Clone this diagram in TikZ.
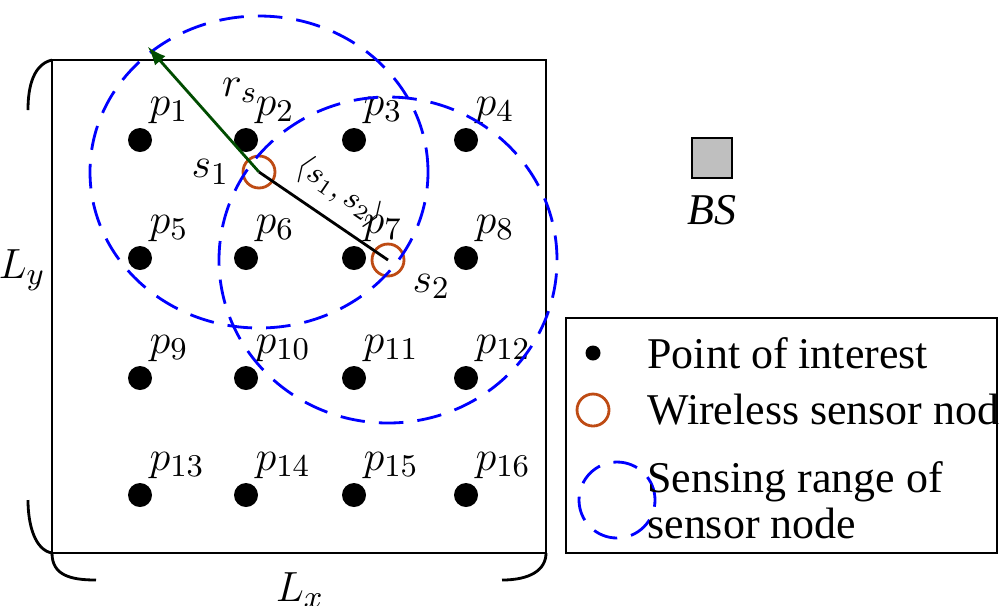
\documentclass[tikz,border=0pt]{standalone}
\usepackage{fontspec}
\setmainfont{Liberation Serif}
\usetikzlibrary{positioning}
\tikzset{
  poi/.style={circle, fill=black, inner sep=0pt, minimum size=0.24cm},
  sensor/.style={circle, draw={rgb,255:red,190;green,75;blue,20}, thick, inner sep=0pt, minimum size=0.32cm},
  senserange/.style={draw=blue, dash pattern=on 7pt off 4pt, thick},
  lbl/.style={font=\fontsize{12.5}{13}\selectfont},
}
\begin{document}
\begin{tikzpicture}
  \useasboundingbox (0,0) rectangle (10,6.05);
  % Region
  \draw[thick] (0.52,0.52) rectangle (5.46,5.45);

  % Braces
  \draw[thick] (0.52,5.45) .. controls (0.30,5.40) and (0.28,5.10) .. (0.28,4.95);
  \draw[thick] (0.28,1.05) .. controls (0.28,0.80) and (0.35,0.55) .. (0.52,0.52);
  \draw[thick] (0.52,0.52) .. controls (0.52,0.30) and (0.70,0.25) .. (0.96,0.25);
  \draw[thick] (5.02,0.25) .. controls (5.30,0.25) and (5.46,0.35) .. (5.46,0.52);
  \node[lbl] (ly) at (0.22,3.35) {$L_y$};
  \node[lbl] (lx) at (3.0,0.15) {$L_x$};

  % Points of interest
  \foreach \r/\y in {0/4.65,1/3.47,2/2.27,3/1.10}
    \foreach \c/\x in {1/1.40,2/2.46,3/3.54,4/4.66}{
      \pgfmathtruncatemacro{\k}{4*\r+\c}
      \node[poi] (p\k) at (\x,\y) {};
      \node[lbl, anchor=south west, inner sep=0pt] at ([xshift=0pt,yshift=2pt]p\k.north east) {$p_{\k}$};
    }

  % Sensors
  \node[sensor] (s1) at (2.59,4.33) {};
  \node[sensor] (s2) at (3.88,3.45) {};
  \node[lbl, left=0pt of s1] {$s_1$};
  \node[lbl, below right=-3pt and 0pt of s2] {$s_2$};

  % Sensing ranges
  \draw[senserange] (s1.center) ellipse[x radius=1.69cm, y radius=1.56cm];
  \draw[senserange] (s2.center) ellipse[x radius=1.69cm, y radius=1.63cm];

  % Range and link
  \coordinate (rtip) at (1.48,5.58);
  \draw[->, >=latex, thick, green!30!black] (s1.center) -- (rtip)
    node[pos=0.45, above right, lbl, text=black] {$r_s$};
  \draw[thick] (s1.center) -- (s2.center)
    node[midway, sloped, above, font=\small] {$\langle s_1,s_2\rangle$};

  % Base station
  \node[draw, thick, fill=gray!50, minimum size=0.4cm, inner sep=0pt] (bs) at (7.12,4.47) {};
  \node[lbl, below=1pt of bs] {\textit{BS}};

  % Legend
  \draw[thick] (5.66,0.52) rectangle (9.97,2.87);
  \node[poi, minimum size=0.15cm] (lg1) at (5.93,2.52) {};
  \node[sensor] (lg2) at (5.93,1.95) {};
  \draw[senserange] (6.17,1.05) circle[radius=0.38];
  \node[lbl, anchor=west] at (6.35,2.52) {Point of interest};
  \node[lbl, anchor=west] at (6.35,1.95) {Wireless sensor node};
  \node[lbl, anchor=west, align=left] at (6.35,1.05) {Sensing range of\\sensor node};
\end{tikzpicture}
\end{document}
